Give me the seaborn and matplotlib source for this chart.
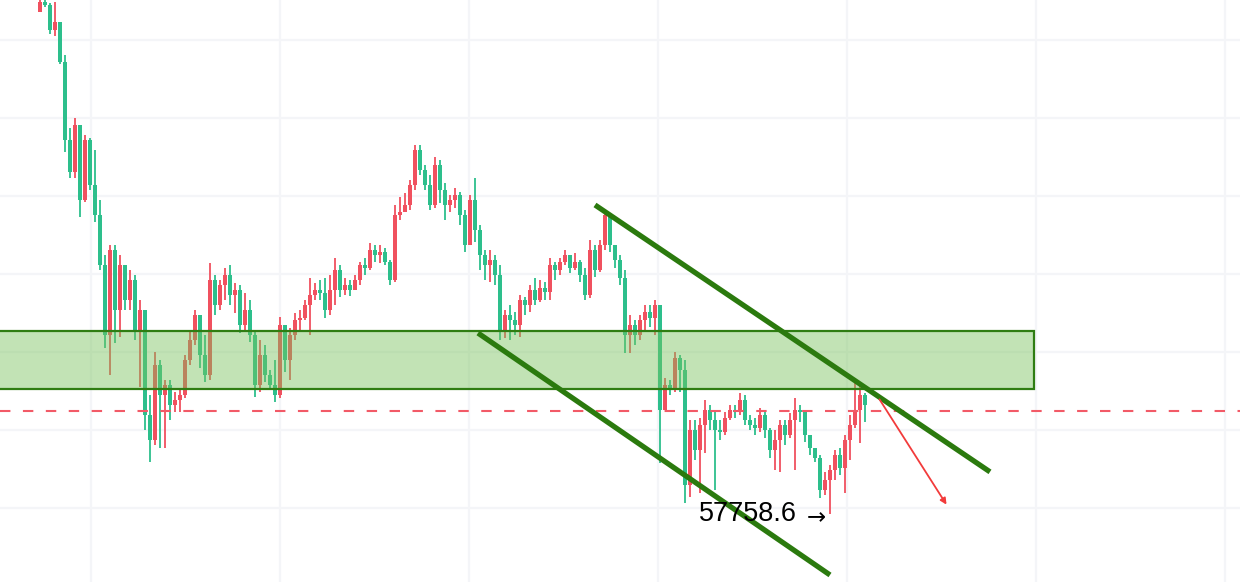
import numpy as np
import pandas as pd
import matplotlib
matplotlib.use('Agg')
import matplotlib.pyplot as plt
import seaborn as sns
from matplotlib.patches import Rectangle

# candle data (one candle per step), open = previous close
first_open = 60979
closes = [
    61043, 61024, 60864, 60915, 60659, 60159, 59953, 60255, 59774, 60159,
    59870, 59678, 59357, 58909, 59454, 59069, 59357, 59133, 59261, 58941,
    59069, 58396, 58236, 58716, 58524, 58588, 58460, 58492, 58524, 58748,
    58877, 59037, 58780, 58652, 59261, 59101, 59229, 59293, 59165, 59197,
    58973, 59069, 58909, 58588, 58780, 58652, 58588, 58524, 58973, 58748,
    58909, 59005, 59018, 59101, 59165, 59197, 59178, 59069, 59197, 59325,
    59197, 59229, 59197, 59261, 59357, 59338, 59454, 59421, 59441, 59377,
    59261, 59678, 59697, 59742, 59870, 60095, 59966, 59870, 59742, 59998,
    59838, 59742, 59774, 59806, 59678, 59486, 59774, 59582, 59421, 59357,
    59389, 59293, 58941, 59037, 59005, 58973, 59133, 59101, 59197, 59133,
    59210, 59184, 59357, 59325, 59377, 59421, 59338, 59377, 59293, 59165,
    59454, 59325, 59486, 59678, 59486, 59389, 59274, 58909, 58973, 58909,
    59005, 59056, 59018, 59101, 58428, 58588, 58569, 58761, 58684, 57947,
    58300, 58172, 58332, 58428, 58364, 58300, 58287, 58377, 58428, 58415,
    58492, 58364, 58332, 58313, 58396, 58300, 58172, 58236, 58332, 58268,
    58364, 58428, 58415, 58268, 58184, 58120, 57915, 57979, 58043, 58139,
    58056, 58236, 58332, 58428, 58524, 58460]
highs = [
    61056, 61056, 61037, 61043, 60915, 60703, 60236, 60300, 60255, 60191,
    60171, 60095, 59774, 59421, 59486, 59486, 59421, 59357, 59325, 59293,
    59133, 59056, 58524, 58800, 58748, 58620, 58620, 58543, 58569, 58780,
    58941, 59069, 59005, 58909, 59370, 59293, 59261, 59338, 59357, 59242,
    59229, 59178, 59133, 58941, 58877, 58845, 58684, 58748, 59024, 58973,
    58954, 59050, 59069, 59133, 59274, 59242, 59261, 59274, 59293, 59402,
    59357, 59274, 59261, 59293, 59377, 59402, 59498, 59486, 59486, 59466,
    59389, 59742, 59793, 59819, 59902, 60127, 60127, 59998, 59934, 60050,
    60030, 59883, 59806, 59851, 59825, 59710, 59806, 59915, 59614, 59454,
    59454, 59421, 59357, 59069, 59101, 59056, 59165, 59152, 59229, 59274,
    59261, 59248, 59402, 59377, 59402, 59454, 59421, 59434, 59389, 59338,
    59518, 59486, 59518, 59697, 59678, 59486, 59421, 59325, 59037, 59005,
    59037, 59101, 59101, 59133, 59101, 58633, 58620, 58800, 58780, 58748,
    58364, 58364, 58377, 58492, 58460, 58415, 58364, 58415, 58460, 58460,
    58537, 58524, 58396, 58377, 58441, 58415, 58313, 58300, 58364, 58364,
    58409, 58505, 58460, 58428, 58248, 58172, 58139, 58031, 58075, 58172,
    58184, 58268, 58396, 58620, 58607, 58537]
lows = [
    60979, 61011, 60838, 60825, 60646, 60082, 59915, 59915, 59665, 59761,
    59838, 59633, 59325, 58825, 58652, 58857, 58896, 59069, 59069, 58877,
    58575, 58300, 58095, 58204, 58184, 58184, 58364, 58415, 58415, 58505,
    58716, 58845, 58697, 58607, 58620, 59037, 59069, 59133, 59101, 59050,
    58921, 58941, 58864, 58511, 58543, 58607, 58556, 58479, 58505, 58671,
    58620, 58877, 58941, 59005, 58909, 59133, 59133, 59018, 59037, 59101,
    59152, 59165, 59159, 59197, 59229, 59293, 59325, 59377, 59370, 59357,
    59229, 59248, 59646, 59697, 59710, 59838, 59934, 59838, 59710, 59723,
    59755, 59646, 59697, 59723, 59614, 59441, 59486, 59505, 59325, 59261,
    59248, 59229, 58877, 58889, 58877, 58909, 58896, 59037, 59056, 59101,
    59120, 59133, 59133, 59261, 59293, 59357, 59306, 59325, 59248, 59133,
    59146, 59280, 59312, 59454, 59441, 59338, 59229, 58793, 58793, 58845,
    58877, 58941, 58960, 58909, 58088, 58492, 58524, 58543, 58543, 57832,
    57870, 58107, 57896, 58152, 58300, 57915, 58236, 58268, 58364, 58377,
    58396, 58332, 58300, 58268, 58287, 58248, 58120, 58043, 58031, 58204,
    58248, 58043, 58351, 58223, 58139, 58095, 57864, 57883, 57758.6, 57979,
    58011, 57896, 58107, 58313, 58216, 58351]

# levels drawn on the chart
zone_low, zone_high = 58563, 58934
dashed_level = 58422
upper_channel = [59742, 58031]
lower_channel = [58921, 57370]
target_arrow = [58511, 57806]
price_grid = [60800, 60300, 59800, 59300, 58800, 58300, 57800]

df = pd.DataFrame({'close': closes, 'high': highs, 'low': lows})
df['open'] = [first_open] + closes[:-1]
df['x'] = np.arange(len(df))
df['up'] = df['close'] >= df['open']

UP = '#f0515f'
DOWN = '#2dbf8c'
GREEN = '#2b7a0e'

sns.set_theme(style='white')
plt.rcParams['font.family'] = ['Liberation Sans', 'DejaVu Sans']

fig = plt.figure(figsize=(12.4, 5.82), dpi=100)
ax = fig.add_axes([0, 0, 1, 1])
ax.set_xlim(-8, 240)
ax.set_ylim(57325, 61056)
ax.axis('off')

# light grid
for p in price_grid:
    ax.axhline(p, color='#f4f5f8', lw=1.6, zorder=0)
for gx in np.arange(10.2, 240, 37.8):
    ax.axvline(gx, color='#f4f5f8', lw=1.6, zorder=0)

# candles
cols = np.where(df['up'], UP, DOWN)
top = df[['high', 'open', 'close']].max(axis=1)
bot = df[['low', 'open', 'close']].min(axis=1)
ax.vlines(df['x'], bot, top, colors=cols, lw=1.3, zorder=2)
body = (df['close'] - df['open']).where((df['close'] - df['open']).abs() > 4, 6)
ax.bar(df['x'], body, bottom=df['open'], width=0.62, color=cols, linewidth=0, zorder=2)

# dashed support line
ax.axhline(dashed_level, color='#f25a67', lw=1.5, ls=(0, (5, 6)), zorder=3)

# green zone
ax.add_patch(Rectangle((-10, zone_low), 208.8, zone_high - zone_low,
                       facecolor='#79c25c', alpha=0.45, edgecolor='none', zorder=4))
ax.add_patch(Rectangle((-10, zone_low), 208.8, zone_high - zone_low,
                       facecolor='none', edgecolor='#2f7d12', lw=1.6, zorder=4))

# descending channel
ax.plot([111, 190], upper_channel, color=GREEN, lw=3.8, solid_capstyle='butt', zorder=5)
ax.plot([87.6, 158], lower_channel, color=GREEN, lw=3.8, solid_capstyle='butt', zorder=5)

# projected move
ax.annotate('', xy=(181.6, target_arrow[1]), xytext=(167.6, target_arrow[0]),
            arrowprops=dict(arrowstyle='-|>', color='#f23b3b', lw=1.3, mutation_scale=9),
            zorder=6)

# low label
ax.text(151.4, 57760, f"{min(lows):.1f}", ha='right', va='center',
        fontsize=19.5, color='black', zorder=6)
ax.text(155.2, 57735, "→", ha='center', va='center', family='DejaVu Sans',
        fontsize=16.5, color='black', zorder=6)

fig.savefig('out.png', dpi=100)
